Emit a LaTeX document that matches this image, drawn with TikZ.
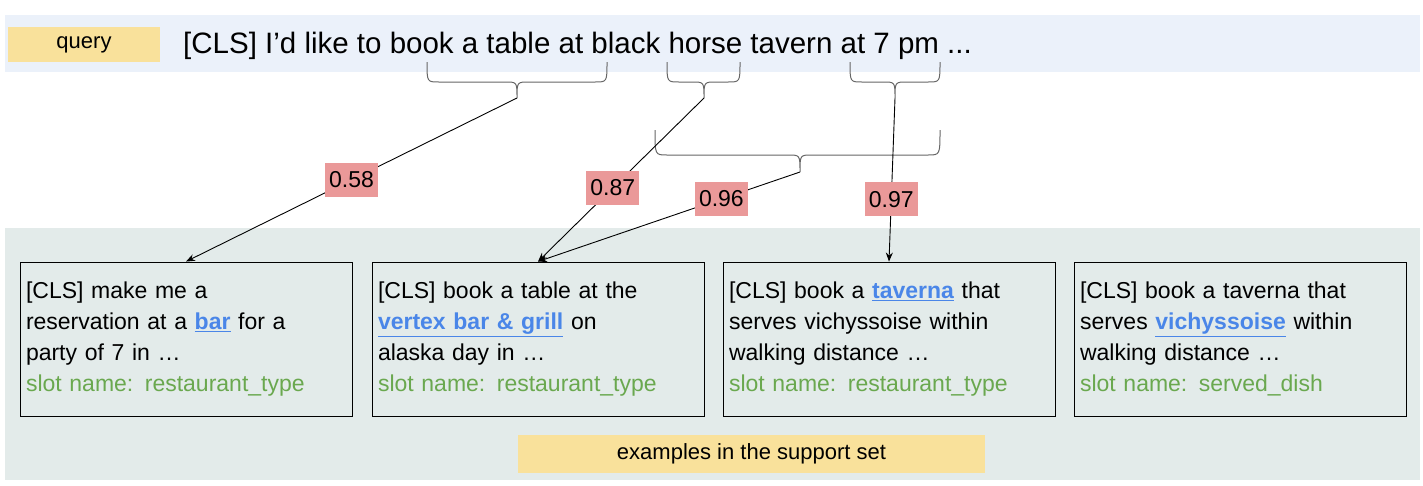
\documentclass[tikz,border=0pt]{standalone}
\usepackage{fontspec}
\setmainfont{Liberation Sans}
\usetikzlibrary{arrows.meta}
\definecolor{qband}{HTML}{EBF1FA}
\definecolor{sband}{HTML}{E3EBEA}
\definecolor{yel}{HTML}{F9E19B}
\definecolor{pinkc}{HTML}{EA9999}
\definecolor{bluet}{HTML}{4A86E8}
\definecolor{greent}{HTML}{6AA84F}
\newcommand{\hl}[1]{\textcolor{bluet}{\bfseries\underline{#1}}}
\newcommand{\slotn}[1]{\textcolor{greent}{slot name: #1}}
\newcommand{\mybrace}[6]{\draw[bracec] (#1,#4) .. controls (#1,#5) .. (#1+12,#5) -- (#3-12,#5) .. controls (#3,#5) .. (#3,#6) .. controls (#3,#5) .. (#3+12,#5) -- (#2-12,#5) .. controls (#2,#5) .. (#2,#4);}
\begin{document}
\begin{tikzpicture}[x=1pt,y=-1pt,
  bracec/.style={draw=black!60,line width=1pt},
  ex/.style={draw=black,line width=0.9pt,minimum width=332pt,minimum height=154pt,text width=320pt,align=left,inner sep=0pt,font=\fontsize{23}{31}\selectfont},
  score/.style={fill=pinkc,font=\fontsize{23}{27}\selectfont,inner sep=4pt,minimum height=34pt},
  arr/.style={-{Stealth[length=9pt,width=7pt]},line width=0.9pt},
  tag/.style={fill=yel,font=\fontsize{22}{26}\selectfont,inner sep=0pt}]
\useasboundingbox (0,0) rectangle (1423,485);
\fill[qband] (5,15) rectangle (1420,72);
\fill[sband] (5,228) rectangle (1420,480);
\node[tag,minimum width=152pt,minimum height=35pt] (q) at (84,44.5) {query};
\node[anchor=west,font=\fontsize{29.5}{34}\selectfont,inner sep=0pt] (qt) at (183,46) {[CLS] I’d like to book a table at black horse tavern at 7 pm ...};
\mybrace{427}{607}{517}{62}{82}{98}
\mybrace{667}{740}{704}{62}{82}{98}
\mybrace{850}{940}{895}{62}{82}{98}
\mybrace{655}{940}{800}{130}{155}{172}
\coordinate (t1) at (517,98);
\coordinate (t2) at (704,98);
\coordinate (t3) at (895,98);
\coordinate (t4) at (800,172);
\node[ex] (b1) at (186,339) {[CLS] make me a\\reservation at a \hl{bar} for a\\party of 7 in \dots\\\slotn{restaurant\_type}};
\node[ex] (b2) at (538,339) {[CLS] book a table at the\\\hl{vertex bar \& grill} on\\alaska day in \dots\\\slotn{restaurant\_type}};
\node[ex] (b3) at (889,339) {[CLS] book a \hl{taverna} that\\serves vichyssoise within\\walking distance \dots\\\slotn{restaurant\_type}};
\node[ex] (b4) at (1240,339) {[CLS] book a taverna that\\serves \hl{vichyssoise} within\\walking distance \dots\\\slotn{served\_dish}};
\node[tag,minimum width=467pt,minimum height=38pt] (sup) at (751.5,454) {examples in the support set};
\draw[arr] (t1) -- node[score,pos=0.5] {0.58} (b1.north);
\draw[arr] (t2) -- node[score,pos=0.55] {0.87} (b2.north);
\draw[arr] (t4) -- node[score,pos=0.3] {0.96} (b2.north);
\draw[arr] (t3) -- node[score,pos=0.62] {0.97} (b3.north);
\end{tikzpicture}
\end{document}
